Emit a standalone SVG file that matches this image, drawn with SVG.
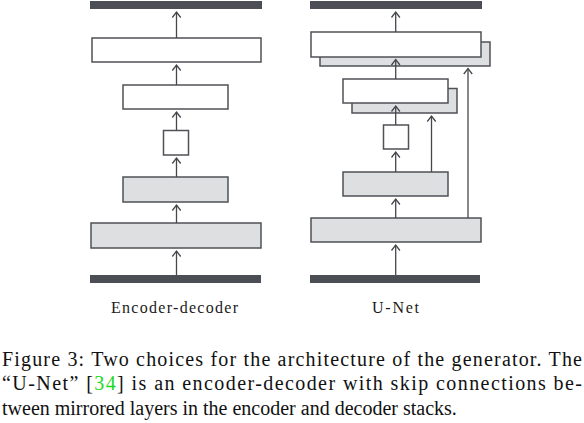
<svg xmlns="http://www.w3.org/2000/svg" width="584" height="423" viewBox="0 0 584 423">
<style>
.bar{fill:#4b4e54}
.w{fill:#ffffff;stroke:#4f5156;stroke-width:1.5}
.g{fill:#dedfe1;stroke:#4f5156;stroke-width:1.5}
.c{stroke:#45474c;stroke-width:1.3;fill:none;marker-end:url(#ah)}
.lab{font-family:"Liberation Serif","Times New Roman",serif;font-size:16px;fill:#1a1a1a}
.cap{font-family:"Liberation Serif","Times New Roman",serif;font-size:20px;fill:#111}
</style>
<defs>
<marker id="ah" markerUnits="userSpaceOnUse" orient="auto" refX="0" refY="0" markerWidth="10" markerHeight="10" overflow="visible">
<path d="M-5.5,-4.2 L0,0 L-5.5,4.2" fill="none" stroke="#45474c" stroke-width="1.3"/>
</marker>
</defs>
<rect x="0" y="0" width="584" height="423" fill="#ffffff"/>

<g id="encdec">
<rect id="ed-out" class="bar" x="90" y="1" width="172" height="8"/>
<rect id="ed-d2" class="w" x="92" y="38" width="169" height="24"/>
<rect id="ed-d1" class="w" x="123" y="85" width="105" height="24"/>
<rect id="ed-bott" class="w" x="163.5" y="130.5" width="25" height="24.5"/>
<rect id="ed-e2" class="g" x="123" y="177" width="105" height="25"/>
<rect id="ed-e1" class="g" x="91" y="223" width="170" height="25"/>
<rect id="ed-in" class="bar" x="90" y="275" width="171" height="8"/>
</g>

<g id="unet">
<rect id="un-out" class="bar" x="310" y="1" width="172" height="8"/>
<rect id="un-s1" class="g" x="320" y="42" width="170" height="24"/>
<rect id="un-d2" class="w" x="311" y="32" width="170" height="25"/>
<rect id="un-s2" class="g" x="352" y="88.5" width="105" height="24.5"/>
<rect id="un-d1" class="w" x="343" y="79" width="105" height="24"/>
<rect id="un-bott" class="w" x="383.5" y="125" width="25" height="24"/>
<rect id="un-e2" class="g" x="343" y="172" width="105" height="24"/>
<rect id="un-e1" class="g" x="311" y="218" width="170" height="24"/>
<rect id="un-in" class="bar" x="310" y="275" width="170" height="8"/>
</g>

<g id="connectors">
<line class="c" x1="176.5" y1="38" x2="176.5" y2="12"/>
<line class="c" x1="176.5" y1="85" x2="176.5" y2="65"/>
<line class="c" x1="176.5" y1="130" x2="176.5" y2="112"/>
<line class="c" x1="176.5" y1="177" x2="176.5" y2="158"/>
<line class="c" x1="176.5" y1="223" x2="176.5" y2="205"/>
<line class="c" x1="176.5" y1="275" x2="176.5" y2="251"/>

<line class="c" x1="395.7" y1="32" x2="395.7" y2="12"/>
<line class="c" x1="395.7" y1="79" x2="395.7" y2="59.5"/>
<line class="c" x1="395.7" y1="125" x2="395.7" y2="106"/>
<line class="c" x1="395.7" y1="172" x2="395.7" y2="152"/>
<line class="c" x1="395.7" y1="218" x2="395.7" y2="199"/>
<line class="c" x1="395.7" y1="275" x2="395.7" y2="245"/>
<line class="c" x1="431.5" y1="172" x2="431.5" y2="116"/>
<line class="c" x1="468" y1="218" x2="468" y2="68.5"/>
</g>

<g id="labels">
<text class="lab" x="111" y="313" textLength="127" lengthAdjust="spacing">Encoder-decoder</text>
<text class="lab" x="372" y="313" textLength="47" lengthAdjust="spacing">U-Net</text>
</g>

<g id="caption">
<text class="cap" x="2" y="366" textLength="580" lengthAdjust="spacing">Figure 3: Two choices for the architecture of the generator. The</text>
<text class="cap" x="2" y="390" textLength="580" lengthAdjust="spacing">“U-Net” [<tspan fill="#1ed81e">34</tspan>] is an encoder-decoder with skip connections be-</text>
<text class="cap" x="2" y="415">tween mirrored layers in the encoder and decoder stacks.</text>
</g>
</svg>
